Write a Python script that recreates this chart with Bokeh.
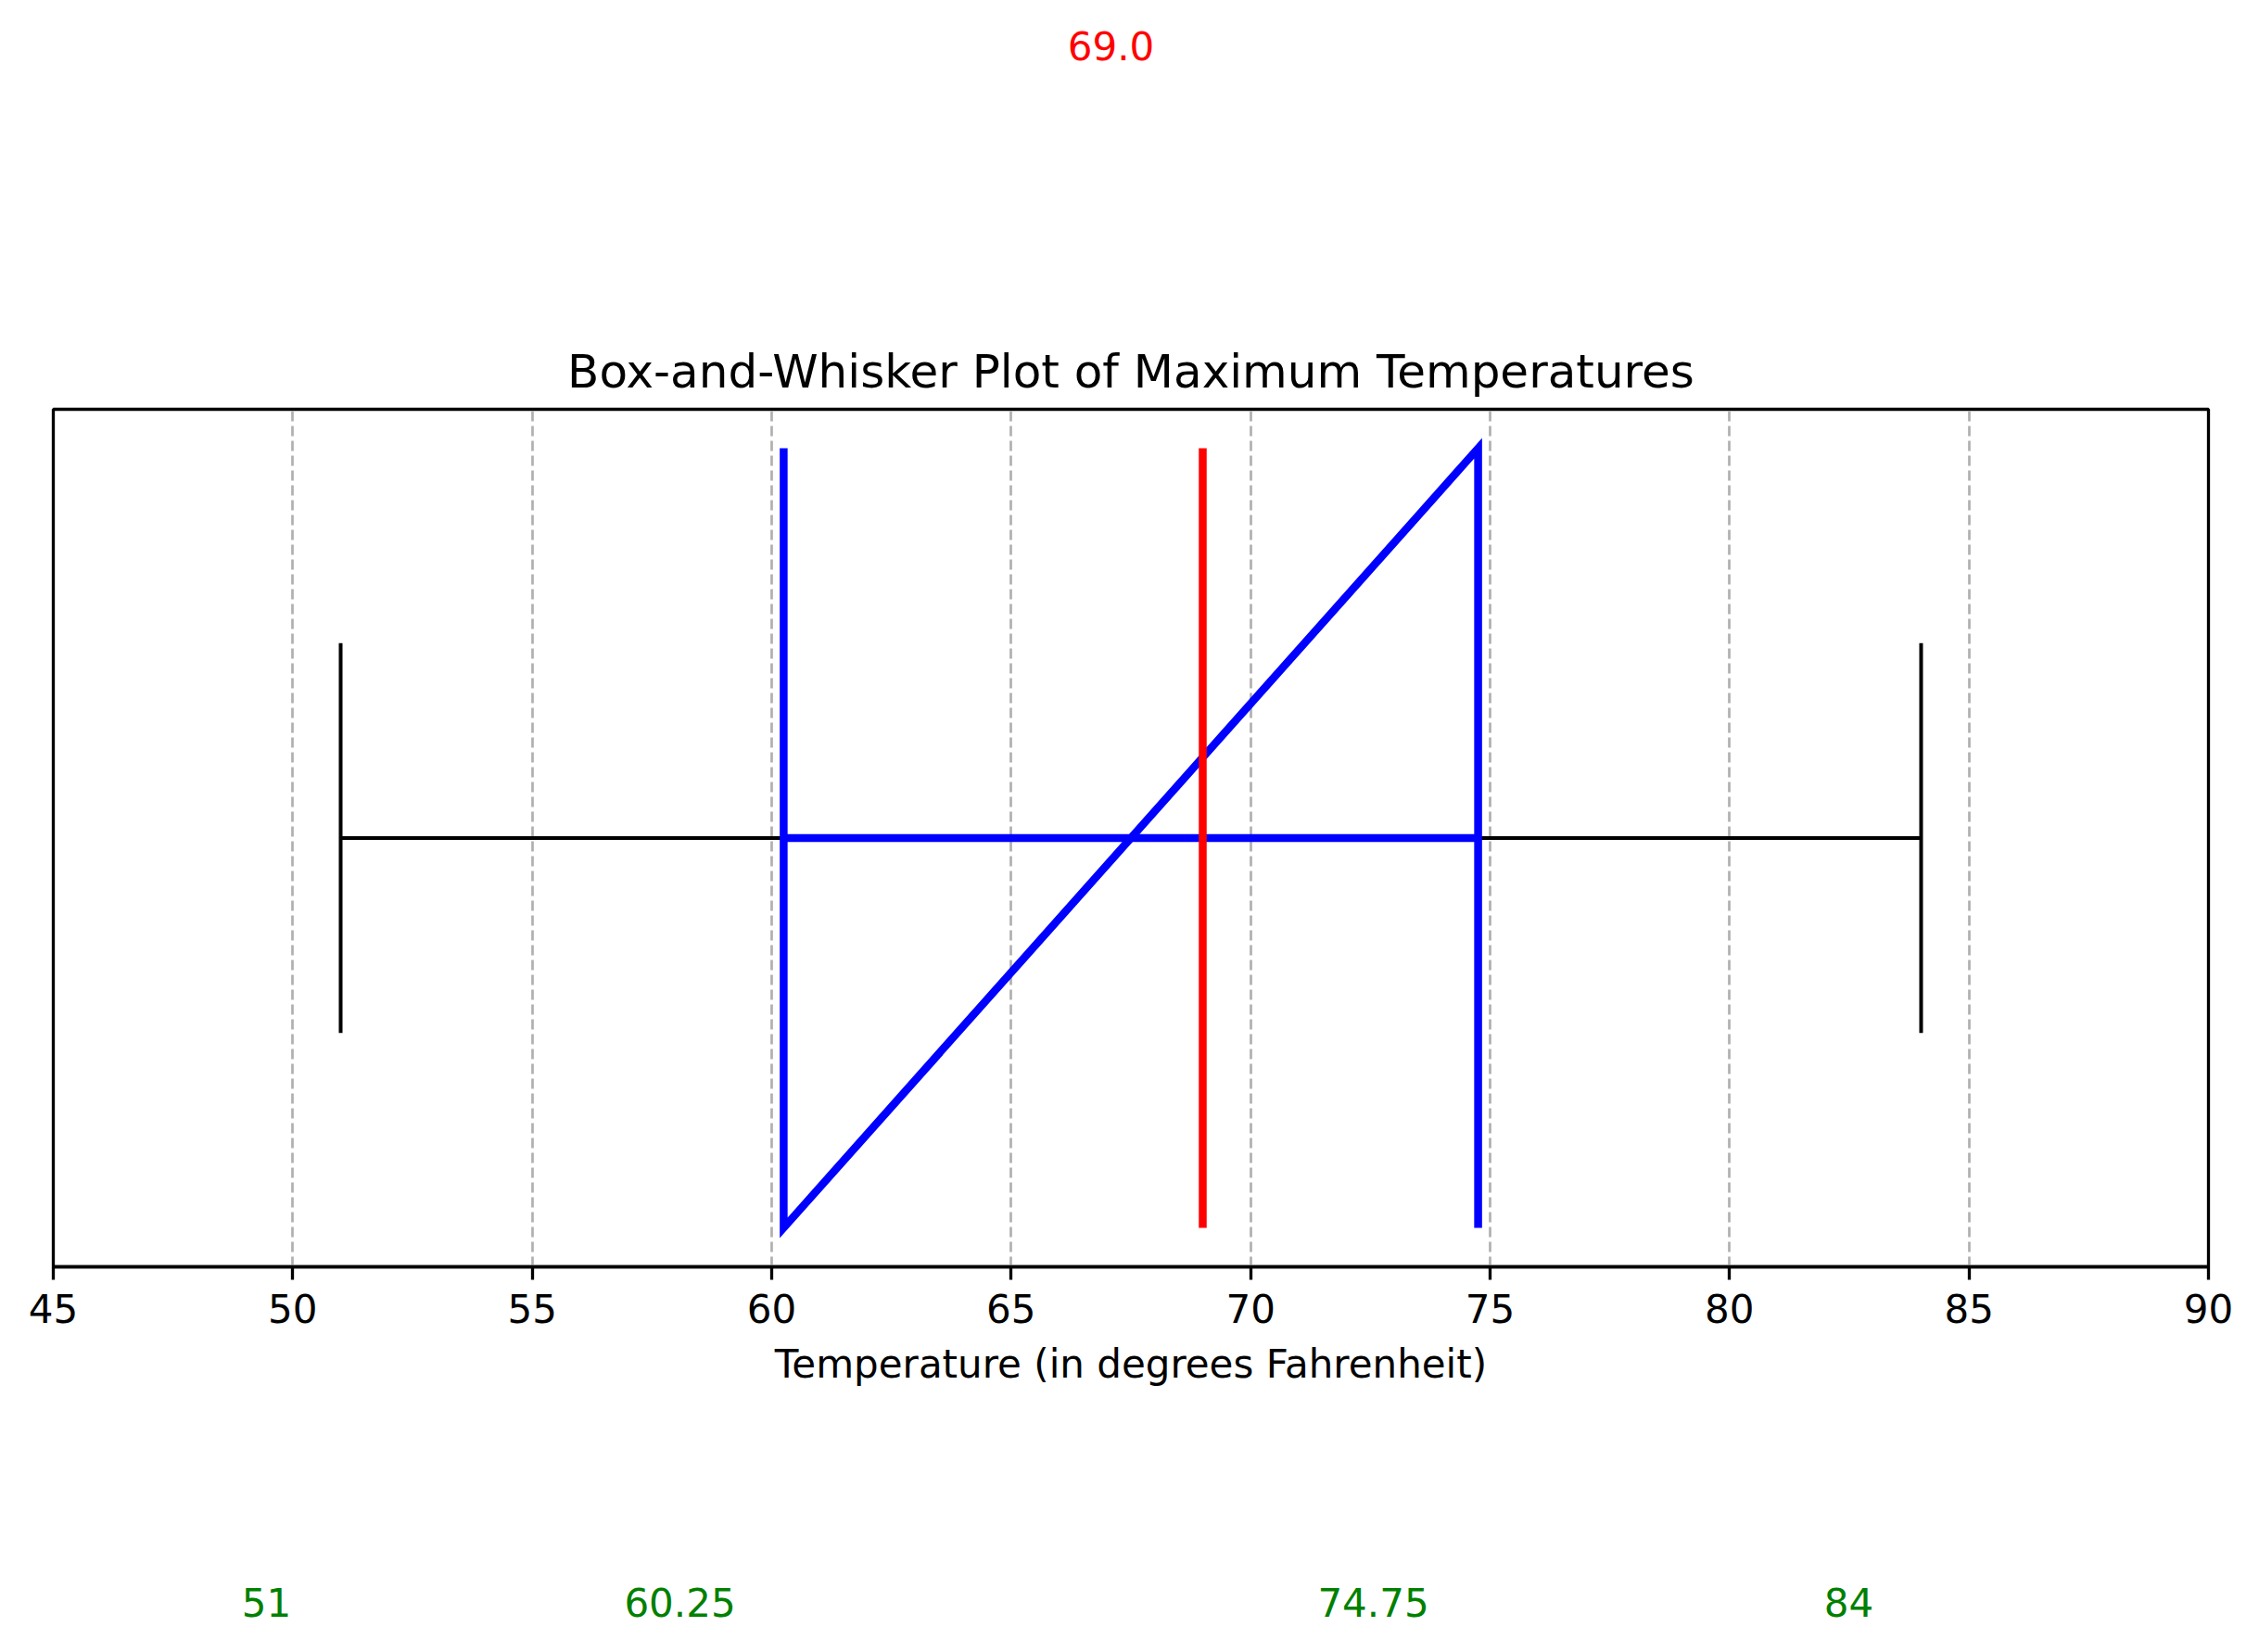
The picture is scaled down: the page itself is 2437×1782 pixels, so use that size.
from bokeh.plotting import figure
from bokeh.models import Range1d, FixedTicker, Label
from bokeh.layouts import column
from bokeh.embed import file_html
from bokeh.resources import INLINE

# ---- data ----
stat_names = ["Minimum", "Q1", "Median", "Q3", "Maximum"]
stat_values = [51, 60.25, 69.0, 74.75, 84]
x_ticks = [45, 50, 55, 60, 65, 70, 75, 80, 85, 90]
title_text = "Box-and-Whisker Plot of Maximum Temperatures"
x_label = "Temperature (in degrees Fahrenheit)"

vmin, q1, med, q3, vmax = stat_values
FONT = "DejaVu Sans"

W = 2421
TOP_H = 431          # strip above the plot (title + median text)
MAIN_H = 1169
BOT_H = 166          # strip below the plot (five-number labels)
FRAME_L, FRAME_W, FRAME_H = 57, 2325, 925
FRAME_R = W - FRAME_L - FRAME_W
MAIN_TOP = 10


def strip(h):
    f = figure(width=W, height=h, output_backend="svg", toolbar_location=None,
               x_range=Range1d(0, FRAME_W), y_range=Range1d(0, h),
               x_axis_location=None, y_axis_location=None,
               min_border_left=FRAME_L, min_border_right=FRAME_R,
               min_border_top=0, min_border_bottom=0)
    f.outline_line_color = None
    f.grid.visible = False
    f.background_fill_color = "white"
    f.border_fill_color = "white"
    return f


# positions below are in pixels relative to the plot frame's left edge
# ---- top strip ----
ptop = strip(TOP_H)
ptop.add_layout(Label(x=FRAME_W / 2, y=14.3 + 16, x_units="screen", y_units="screen",
                      text=title_text, text_align="center", text_baseline="alphabetic",
                      text_font=FONT, text_font_size="50px", text_color="black"))
ptop.add_layout(Label(x=1198 - FRAME_L, y=TOP_H - 63 + 14, x_units="screen", y_units="screen",
                      text=f"{med:.1f}", text_align="center", text_baseline="alphabetic",
                      text_font=FONT, text_font_size="42px", text_color="red"))

# ---- main plot ----
p = figure(width=W, height=MAIN_H, output_backend="svg", toolbar_location=None,
           x_range=Range1d(45, 90), y_range=Range1d(0.45, 1.55),
           y_axis_location=None,
           min_border_left=FRAME_L, min_border_top=MAIN_TOP,
           min_border_right=FRAME_R,
           min_border_bottom=MAIN_H - MAIN_TOP - FRAME_H)
p.background_fill_color = "white"
p.border_fill_color = "white"
p.outline_line_color = "black"
p.outline_line_width = 3.3

p.xgrid.ticker = FixedTicker(ticks=x_ticks)
p.xgrid.grid_line_color = "#b0b0b0"
p.xgrid.grid_line_width = 2.7
p.xgrid.grid_line_dash = "11 5"
p.ygrid.visible = False

ax = p.xaxis[0]
ax.ticker = FixedTicker(ticks=x_ticks)
ax.axis_line_color = "black"
ax.axis_line_width = 3.3
ax.major_tick_line_width = 3.3
ax.major_tick_out = 14
ax.major_tick_in = 0
ax.minor_tick_line_color = None
ax.major_label_text_font = FONT
ax.major_label_text_font_size = "42px"
ax.major_label_text_color = "black"
ax.major_label_standoff = 15
ax.axis_label = x_label
ax.axis_label_text_font = FONT
ax.axis_label_text_font_size = "42px"
ax.axis_label_text_font_style = "normal"
ax.axis_label_text_color = "black"
ax.axis_label_standoff = 17

# whiskers
p.line([vmin, q1], [1, 1], line_color="black", line_width=4)
p.line([q3, vmax], [1, 1], line_color="black", line_width=4)
p.line([vmin, vmin], [0.75, 1.25], line_color="black", line_width=4)
p.line([vmax, vmax], [0.75, 1.25], line_color="black", line_width=4)

# box (as drawn in the reference)
p.line([q1, q1, q3, q3], [1.5, 0.5, 1.5, 0.5], line_color="blue", line_width=8.5,
       line_join="miter")
p.line([q1, q3], [1, 1], line_color="blue", line_width=8.5)

# median
p.line([med, med], [0.5, 1.5], line_color="red", line_width=8.5)

# ---- bottom strip ----
pbot = strip(BOT_H)
label_x = [287, 733, 1481, 1994]
for v, lx in zip([vmin, q1, q3, vmax], label_x):
    pbot.add_layout(Label(x=lx - FRAME_L, y=23 + 15, x_units="screen", y_units="screen",
                          text=f"{v:g}", text_align="center", text_baseline="alphabetic",
                          text_font=FONT, text_font_size="42px", text_color="green"))

layout = column(ptop, p, pbot, spacing=0)
open("out.html", "w").write(file_html(layout, INLINE))
